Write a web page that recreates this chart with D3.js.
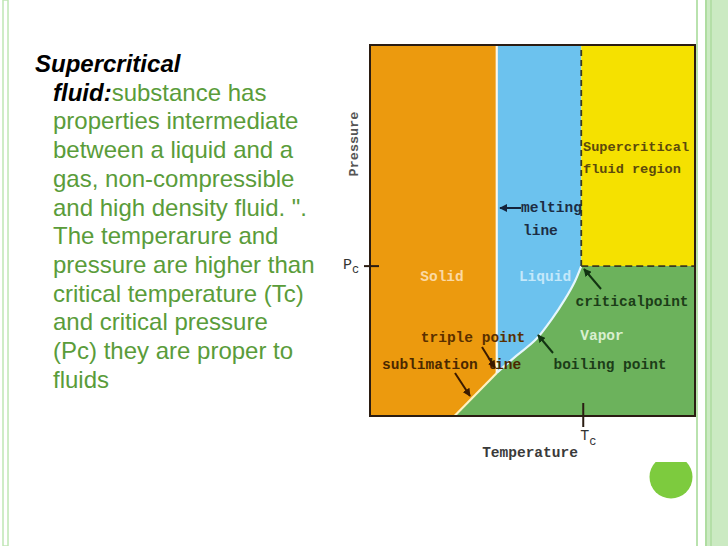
<!DOCTYPE html>
<html>
<head>
<meta charset="utf-8">
<script src="https://cdn.jsdelivr.net/npm/d3@7"></script>
<style>
  html, body { margin: 0; padding: 0; background: #fff; }
  svg { display: block; }
</style>
</head>
<body>
<div id="chart"></div>
<script>
// phase diagram values, in relative units (temperature 0..100, pressure 0..100)
const phaseNames = ["Solid", "Liquid", "Vapor", "Supercritical fluid region"];
const triplePoint = [39, 11.6];
const criticalPoint = [65, 40.4];
const sublimationLine = [[26, 0], [39, 11.6]];
const meltingLine = [[39, 11.6], [39, 100]];
const boilingCurve = [[39, 11.6], [45, 16.2], [51, 20.6], [56, 26.2], [60, 31.5], [63, 36.2], [65, 40.4]];
const tickLabels = ["P", "T"];
const bodyLines = [
  "substance has",
  "properties intermediate",
  "between a liquid and a",
  "gas, non-compressible",
  "and high density fluid. \".",
  "The temperarure and",
  "pressure are higher than",
  "critical temperature (Tc)",
  "and critical pressure",
  "(Pc) they are proper to",
  "fluids"
];

const width = 728, height = 546;
const svg = d3.select("#chart").append("svg")
  .attr("width", width)
  .attr("height", height);

// slide decoration
svg.append("rect").attr("x", 3).attr("y", 0).attr("width", 5).attr("height", height)
  .attr("fill", "none").attr("stroke", "#bfe6b4").attr("stroke-width", 1.5);
svg.append("line").attr("x1", 697).attr("x2", 697).attr("y1", 0).attr("y2", height)
  .attr("stroke", "#b9e2ae").attr("stroke-width", 2);
svg.append("rect").attr("x", 705).attr("y", 0).attr("width", 23).attr("height", height)
  .attr("fill", "#cbeac2");
svg.append("line").attr("x1", 706).attr("x2", 706).attr("y1", 0).attr("y2", height)
  .attr("stroke", "#a6d896").attr("stroke-width", 1.5);
svg.append("line").attr("x1", 711).attr("x2", 711).attr("y1", 0).attr("y2", height)
  .attr("stroke", "#9dd48c").attr("stroke-width", 1);

svg.append("clipPath").attr("id", "dotclip")
  .append("rect").attr("x", 640).attr("y", 462).attr("width", 60).attr("height", 60);
svg.append("circle").attr("cx", 671).attr("cy", 477).attr("r", 21.5)
  .attr("fill", "#7dcb3e").attr("clip-path", "url(#dotclip)");

// left text block
const txt = svg.append("text")
  .attr("font-family", "'Liberation Sans', Arial, sans-serif")
  .attr("font-size", 24);
txt.append("tspan").attr("x", 35).attr("y", 72)
  .attr("font-weight", "bold").attr("font-style", "italic").attr("fill", "#000")
  .text("Supercritical");
bodyLines.forEach((s, i) => {
  if (i === 0) {
    txt.append("tspan").attr("x", 53).attr("y", 72 + 28.7)
      .attr("font-weight", "bold").attr("font-style", "italic").attr("fill", "#000")
      .text("fluid:");
    txt.append("tspan").attr("fill", "#5a9c3a").text(s);
  } else {
    txt.append("tspan").attr("x", 53).attr("y", 72 + 28.7 * (i + 1))
      .attr("fill", "#5a9c3a").text(s);
  }
});

// phase diagram
const x = d3.scaleLinear().domain([0, 100]).range([370, 695]);
const y = d3.scaleLinear().domain([0, 100]).range([416, 45]);
const P = d => [x(d[0]), y(d[1])];

const g = svg.append("g");
const mono = "'Liberation Mono', 'Courier New', monospace";

// solid
g.append("rect").attr("x", x(0)).attr("y", y(100))
  .attr("width", x(triplePoint[0]) - x(0)).attr("height", y(0) - y(100))
  .attr("fill", "#ec9a0e");
// liquid
g.append("rect").attr("x", x(triplePoint[0])).attr("y", y(100))
  .attr("width", x(criticalPoint[0]) - x(triplePoint[0])).attr("height", y(0) - y(100))
  .attr("fill", "#6cc2ee");
// supercritical
g.append("rect").attr("x", x(criticalPoint[0])).attr("y", y(100))
  .attr("width", x(100) - x(criticalPoint[0])).attr("height", y(criticalPoint[1]) - y(100))
  .attr("fill", "#f5e100");

// vapor region: sublimation line + boiling curve + edges
const curve = d3.line().x(d => x(d[0])).y(d => y(d[1])).curve(d3.curveCatmullRom);
const lin = d3.line().x(d => x(d[0])).y(d => y(d[1]));
let vaporPath = "M" + P(sublimationLine[0]).join(",") +
  "L" + P(sublimationLine[1]).join(",") +
  curve(boilingCurve).replace(/^M[^A-Za-z]*/, "") +
  "L" + [x(100), y(criticalPoint[1])].join(",") +
  "L" + [x(100), y(0)].join(",") + "Z";
g.append("path").attr("d", vaporPath).attr("fill", "#6cb25c");

// phase boundaries
g.append("path").attr("d", lin(meltingLine)).attr("stroke", "#fdf6e4").attr("stroke-width", 2.2).attr("fill", "none");
g.append("path").attr("d", lin(sublimationLine)).attr("stroke", "#fff3c2").attr("stroke-width", 2.2).attr("fill", "none");
g.append("path").attr("d", curve(boilingCurve)).attr("stroke", "#e6f6fc").attr("stroke-width", 2.2).attr("fill", "none");

// critical dashed lines
g.append("path").attr("d", lin([criticalPoint, [criticalPoint[0], 100]]))
  .attr("stroke", "#3b3a20").attr("stroke-width", 1.8).attr("stroke-dasharray", "6,4").attr("fill", "none");
g.append("path").attr("d", lin([criticalPoint, [100, criticalPoint[1]]]))
  .attr("stroke", "#3b3a20").attr("stroke-width", 1.8).attr("stroke-dasharray", "7,4").attr("fill", "none");

// frame
g.append("rect").attr("x", x(0)).attr("y", y(100))
  .attr("width", x(100) - x(0)).attr("height", y(0) - y(100))
  .attr("fill", "none").attr("stroke", "#2a1c12").attr("stroke-width", 2);

// ticks Pc / Tc
g.append("line").attr("x1", x(0) - 6).attr("x2", x(0) + 9)
  .attr("y1", y(criticalPoint[1])).attr("y2", y(criticalPoint[1]))
  .attr("stroke", "#2a1c12").attr("stroke-width", 2);
g.append("line").attr("x1", x(criticalPoint[0]) + 2).attr("x2", x(criticalPoint[0]) + 2)
  .attr("y1", y(0) - 13).attr("y2", y(0) + 11)
  .attr("stroke", "#2a1c12").attr("stroke-width", 2);

const pc = g.append("text").attr("font-family", mono).attr("font-size", 15).attr("fill", "#333")
  .attr("x", x(0) - 27).attr("y", y(criticalPoint[1]) + 3);
pc.append("tspan").text(tickLabels[0]);
pc.append("tspan").attr("dy", 4).attr("font-size", 12).text("c");

const tc = g.append("text").attr("font-family", mono).attr("font-size", 15).attr("fill", "#333")
  .attr("x", x(criticalPoint[0]) - 1).attr("y", y(0) + 24);
tc.append("tspan").text(tickLabels[1]);
tc.append("tspan").attr("dy", 5).attr("font-size", 12).text("c");

g.append("text").attr("font-family", mono).attr("font-size", 14.5).attr("fill", "#3a3a3a")
  .attr("font-weight", "bold")
  .attr("x", 530).attr("y", y(0) + 41).attr("text-anchor", "middle")
  .text("Temperature");

g.append("text").attr("font-family", mono).attr("font-size", 13.5).attr("fill", "#555")
  .attr("font-weight", "bold")
  .attr("transform", "translate(354,144) rotate(-90)")
  .attr("text-anchor", "middle").attr("dominant-baseline", "central")
  .text("Pressure");

// arrow markers
const defs = svg.append("defs");
[["ag", "#123412"], ["ab", "#3a1a00"], ["an", "#14233c"]].forEach(([id, c]) => {
  defs.append("marker").attr("id", id).attr("viewBox", "0 0 10 10")
    .attr("refX", 9).attr("refY", 5).attr("markerWidth", 4).attr("markerHeight", 4)
    .attr("orient", "auto")
    .append("path").attr("d", "M0,0L10,5L0,10Z").attr("fill", c);
});

// labels
const labels = [
  { t: phaseNames[0], x: 442, y: 277, c: "#fbd9a4" },
  { t: phaseNames[1], x: 545, y: 277, c: "#c4e8fa" },
  { t: phaseNames[2], x: 602, y: 336, c: "#d9efcf" },
  { t: "Supercritical", x: 583, y: 147, c: "#5c4a0c", a: "start", s: 13.6 },
  { t: "fluid region", x: 583, y: 169, c: "#5c4a0c", a: "start", s: 13.6 },
  { t: "melting", x: 521, y: 208, c: "#1c2d45", a: "start" },
  { t: "line", x: 523, y: 231, c: "#1c2d45", a: "start" },
  { t: "criticalpoint", x: 632, y: 302, c: "#1c3d18" },
  { t: "triple point", x: 473, y: 338, c: "#5a3000" },
  { t: "sublimation line", x: 382, y: 365, c: "#4a2800", a: "start" },
  { t: "boiling point", x: 610, y: 365, c: "#1c3d18" }
];
g.selectAll("text.lbl").data(labels).enter().append("text")
  .attr("class", "lbl")
  .attr("font-family", mono).attr("font-size", d => d.s || 14.5).attr("font-weight", "bold")
  .attr("x", d => d.x).attr("y", d => d.y)
  .attr("text-anchor", d => d.a || "middle")
  .attr("dominant-baseline", "central")
  .attr("fill", d => d.c)
  .text(d => d.t);

// arrows
const arrows = [
  { f: [601, 289], t: [584, 269], m: "ag" },
  { f: [553, 353], t: [538, 335], m: "ag" },
  { f: [482, 347], t: [495, 368], m: "ab" },
  { f: [455, 373], t: [470, 396], m: "ab" },
  { f: [521, 208], t: [500, 208], m: "an" }
];
g.selectAll("line.arr").data(arrows).enter().append("line")
  .attr("class", "arr")
  .attr("x1", d => d.f[0]).attr("y1", d => d.f[1])
  .attr("x2", d => d.t[0]).attr("y2", d => d.t[1])
  .attr("stroke", d => d.m === "ag" ? "#123412" : d.m === "ab" ? "#3a1a00" : "#14233c")
  .attr("stroke-width", 2)
  .attr("marker-end", d => "url(#" + d.m + ")");
</script>
</body>
</html>
